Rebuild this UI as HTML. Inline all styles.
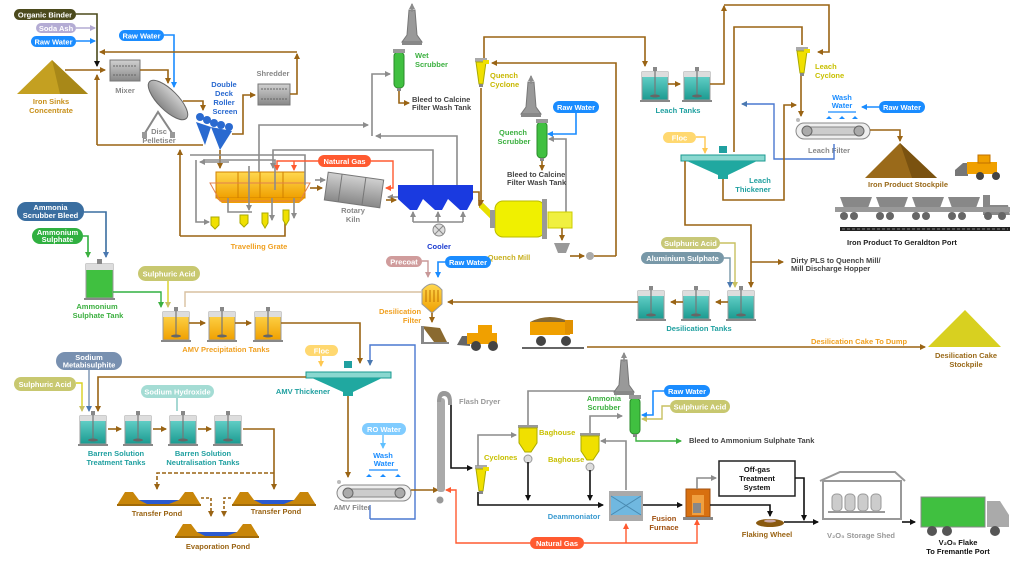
<!DOCTYPE html>
<html><head><meta charset="utf-8"><style>
html,body{margin:0;padding:0;background:#fff;width:1024px;height:571px;overflow:hidden}
svg{display:block}
text{font-family:"Liberation Sans",sans-serif;font-weight:bold;font-size:7.5px}
.w{fill:#fff;text-anchor:middle}
.c{text-anchor:middle}
.b{stroke:#9a6414;stroke-width:1.6;fill:none;marker-end:url(#mb)}
.bn{stroke:#9a6414;stroke-width:1.6;fill:none}
.g{stroke:#8c8c8c;stroke-width:1.6;fill:none;marker-end:url(#mg)}
.gn{stroke:#8c8c8c;stroke-width:1.6;fill:none}
.u{stroke:#1a8cff;stroke-width:1.6;fill:none;marker-end:url(#mu)}
.k{stroke:#111;stroke-width:1.6;fill:none;marker-end:url(#mk)}
.kn{stroke:#111;stroke-width:1.6;fill:none}
.r{stroke:#ff5a30;stroke-width:1.4;fill:none;marker-end:url(#mr)}
.rn{stroke:#ff5a30;stroke-width:1.4;fill:none}
</style></head><body>
<svg width="1024" height="571" viewBox="0 0 1024 571" xmlns="http://www.w3.org/2000/svg">
<defs>
<marker id="mb" markerWidth="6" markerHeight="6" refX="5" refY="3" orient="auto" markerUnits="userSpaceOnUse"><path d="M0,0L6,3L0,6z" fill="#9a6414"/></marker>
<marker id="mg" markerWidth="6" markerHeight="6" refX="5" refY="3" orient="auto" markerUnits="userSpaceOnUse"><path d="M0,0L6,3L0,6z" fill="#8c8c8c"/></marker>
<marker id="mu" markerWidth="6" markerHeight="6" refX="5" refY="3" orient="auto" markerUnits="userSpaceOnUse"><path d="M0,0L6,3L0,6z" fill="#1a8cff"/></marker>
<marker id="mk" markerWidth="6" markerHeight="6" refX="5" refY="3" orient="auto" markerUnits="userSpaceOnUse"><path d="M0,0L6,3L0,6z" fill="#111"/></marker>
<marker id="mr" markerWidth="6" markerHeight="6" refX="5" refY="3" orient="auto" markerUnits="userSpaceOnUse"><path d="M0,0L6,3L0,6z" fill="#ff5a30"/></marker>
<marker id="mn" markerWidth="6" markerHeight="6" refX="5" refY="3" orient="auto" markerUnits="userSpaceOnUse"><path d="M0,0L6,3L0,6z" fill="#3cb040"/></marker>
<marker id="my" markerWidth="6" markerHeight="6" refX="5" refY="3" orient="auto" markerUnits="userSpaceOnUse"><path d="M0,0L6,3L0,6z" fill="#c8c060"/></marker>
<marker id="ms" markerWidth="6" markerHeight="6" refX="5" refY="3" orient="auto" markerUnits="userSpaceOnUse"><path d="M0,0L6,3L0,6z" fill="#4a78b0"/></marker>
<marker id="ml" markerWidth="6" markerHeight="6" refX="5" refY="3" orient="auto" markerUnits="userSpaceOnUse"><path d="M0,0L6,3L0,6z" fill="#60c0ff"/></marker>
<marker id="mp" markerWidth="6" markerHeight="6" refX="5" refY="3" orient="auto" markerUnits="userSpaceOnUse"><path d="M0,0L6,3L0,6z" fill="#c89898"/></marker>
<marker id="mf" markerWidth="6" markerHeight="6" refX="5" refY="3" orient="auto" markerUnits="userSpaceOnUse"><path d="M0,0L6,3L0,6z" fill="#ffc850"/></marker>
<marker id="mv" markerWidth="6" markerHeight="6" refX="5" refY="3" orient="auto" markerUnits="userSpaceOnUse"><path d="M0,0L6,3L0,6z" fill="#b0a8d0"/></marker>
<linearGradient id="tl" x1="0" x2="0" y1="0" y2="1"><stop offset="0" stop-color="#6fd8d0"/><stop offset="1" stop-color="#1a9a90"/></linearGradient>
<linearGradient id="ye" x1="0" x2="0" y1="0" y2="1"><stop offset="0" stop-color="#ffd850"/><stop offset="1" stop-color="#f0a000"/></linearGradient>
<linearGradient id="gy" x1="0" x2="0" y1="0" y2="1"><stop offset="0" stop-color="#d0d0d0"/><stop offset="1" stop-color="#888"/></linearGradient>
<g id="tk"><rect x="0" y="4" width="26" height="28" fill="url(#tl)" stroke="#999"/><rect x="0" y="4" width="26" height="5" fill="#ddd"/><rect x="-2" y="32" width="30" height="2" fill="#888"/><line x1="13" y1="0" x2="13" y2="28" stroke="#777" stroke-width="1.2"/><rect x="11" y="-1" width="4" height="4" fill="#888"/><ellipse cx="13" cy="28" rx="5" ry="1.5" fill="#666"/></g>
<g id="ty"><rect x="0" y="4" width="26" height="28" fill="url(#ye)" stroke="#999"/><rect x="0" y="4" width="26" height="5" fill="#ddd"/><rect x="-2" y="32" width="30" height="2" fill="#888"/><line x1="13" y1="0" x2="13" y2="28" stroke="#777" stroke-width="1.2"/><rect x="11" y="-1" width="4" height="4" fill="#888"/><ellipse cx="13" cy="28" rx="5" ry="1.5" fill="#666"/></g>
<g id="cy"><rect x="-6" y="0" width="12" height="4" fill="#aaa"/><path d="M-5,4H5L2,26H-2z" fill="#f0e000" stroke="#aa0"/><rect x="2" y="2" width="6" height="4" fill="#f0e000"/><rect x="-2" y="26" width="4" height="3" fill="#888"/></g>
<g id="sc"><rect x="-5" y="0" width="10" height="36" rx="4" fill="#40c040" stroke="#2a8a2a"/><rect x="-6" y="-3" width="12" height="4" fill="#999"/><rect x="-2" y="36" width="4" height="3" fill="#888"/></g>
<g id="st"><path d="M-3,0L3,0L5,25L10,32H-10L-5,25z" fill="#999" stroke="#777"/><rect x="-10" y="32" width="20" height="3" fill="#888"/></g>
<g id="bh"><rect x="-10" y="0" width="20" height="3" fill="#999"/><path d="M-9,3H9V18L3,27H-3L-9,18z" fill="#f0e000" stroke="#aa0"/><circle cx="0" cy="34" r="4" fill="#ddd" stroke="#999"/></g>
<g id="pond"><path d="M0,15L8,2H16L22,10H62L68,2H76L84,15z" fill="#c8860a"/><path d="M22,10H62L52,14H30z" fill="#2a5ad0"/><rect x="0" y="14" width="84" height="2" fill="#a06a08"/></g>
<g id="conv"><rect x="0" y="5" width="74" height="16" rx="8" fill="#eee" stroke="#888"/><rect x="8" y="9" width="58" height="8" rx="4" fill="#ccc" stroke="#888"/><circle cx="11" cy="13" r="5" fill="#aaa" stroke="#666"/><circle cx="63" cy="13" r="5" fill="#aaa" stroke="#666"/><circle cx="2" cy="2" r="2" fill="#bbb"/></g>
</defs>

<rect x="14" y="9" width="62" height="11" rx="5.5" fill="#4b4a1c"/><text x="45" y="17.5" class="w">Organic Binder</text>
<rect x="36" y="23" width="40" height="10" rx="5" fill="#b4acd4"/><text x="56" y="31" class="w">Soda Ash</text>
<rect x="31" y="36" width="45" height="11" rx="5.5" fill="#1a8cff"/><text x="53.5" y="44.5" class="w">Raw Water</text>
<path d="M76,14H97V66" stroke="#4b4a1c" stroke-width="1.6" fill="none" marker-end="url(#mk)"/>
<path d="M76,28H95" stroke="#b4acd4" stroke-width="1.6" fill="none" marker-end="url(#mv)"/>
<path d="M76,41H95" class="u"/>
<path d="M17,94L52,60L88,94z" fill="#c4a021"/><path d="M52,60L88,94H60z" fill="#a88818"/>
<text x="51" y="104" class="c" fill="#c8901a">Iron Sinks</text><text x="51" y="113" class="c" fill="#c8901a">Concentrate</text>
<path d="M65,70H105" class="b"/>
<path d="M97,145V75" class="b"/>
<rect x="110" y="60" width="30" height="21" fill="url(#gy)" stroke="#777"/><line x1="113" y1="66" x2="137" y2="66" stroke="#666" stroke-dasharray="2 1"/><line x1="113" y1="75" x2="137" y2="75" stroke="#666" stroke-dasharray="2 1"/>
<text x="125" y="93" class="c" fill="#888">Mixer</text>
<rect x="119" y="30" width="45" height="11" rx="5.5" fill="#1a8cff"/><text x="141.5" y="38.5" class="w">Raw Water</text>
<path d="M164,35H174V87" class="u"/>
<path d="M140,70H168V83" class="b"/>
<g transform="translate(168,100) rotate(45)"><ellipse cx="0" cy="0" rx="26" ry="10" fill="url(#gy)" stroke="#666"/></g>
<path d="M145,133L158,112L172,133" stroke="#888" stroke-width="2" fill="none"/><rect x="142" y="132" width="5" height="6" fill="#999"/><rect x="170" y="132" width="5" height="6" fill="#999"/>
<text x="159" y="134" class="c" fill="#888">Disc</text><text x="159" y="143" class="c" fill="#888">Pelletiser</text>
<path d="M183,101H203V110" class="b"/>
<path d="M97,145H203" class="bn"/>
<text x="224" y="87" class="c" fill="#2a6ad0">Double</text><text x="224" y="96" class="c" fill="#2a6ad0">Deck</text><text x="224" y="105" class="c" fill="#2a6ad0">Roller</text><text x="225" y="114" class="c" fill="#2a6ad0">Screen</text>
<g fill="#2a6ad0"><circle cx="200" cy="117" r="4"/><circle cx="207" cy="120" r="4"/><circle cx="214" cy="123" r="4"/><circle cx="221" cy="125" r="4"/><circle cx="229" cy="127" r="4"/>
<path d="M196,122L211,127L205,145z"/><path d="M211,127L232,131L220,150z"/></g>
<path d="M232,134H243V95H255" class="b"/>
<rect x="258" y="84" width="32" height="21" fill="url(#gy)" stroke="#777"/><line x1="261" y1="89" x2="287" y2="89" stroke="#666" stroke-dasharray="2 1"/><line x1="261" y1="99" x2="287" y2="99" stroke="#666" stroke-dasharray="2 1"/>
<text x="273" y="76" class="c" fill="#888">Shredder</text>
<path d="M290,94H297V54" class="b"/>
<path d="M297,52H100" class="b"/>
<path d="M180,236V150" class="b"/>
<path d="M180,236H285V222" class="bn"/>
<path d="M220,150V168" class="b"/>
<rect x="216" y="172" width="89" height="26" fill="url(#ye)" stroke="#d08000"/>
<g stroke="#d08000" fill="none"><line x1="238" y1="172" x2="238" y2="198"/><line x1="260" y1="172" x2="260" y2="198"/><line x1="283" y1="172" x2="283" y2="198"/></g>
<path d="M216,198L222,203H299L305,198" fill="#f0a000"/>
<path d="M210,183H310L300,201H220z" fill="none" stroke="#e08050"/>
<g fill="#f0e000" stroke="#aa0"><path d="M211,217h8v8l-4,4l-4,-4z"/><path d="M240,215h8v8l-4,4l-4,-4z"/><path d="M262,213h6v10l-3,5l-3,-5z"/><path d="M283,210h6v10l-3,5l-3,-5z"/></g>
<g class="gn"><path d="M190,155H305V185" /><path d="M196,160V222H209" class="g"/><path d="M203,160H275V190"/></g>
<path d="M249,166V210" class="g"/><path d="M228,198V212H252" class="gn"/><path d="M272,198V220" class="g"/><path d="M294,198V218" class="g"/>
<path d="M229,162H200" class="g"/>
<path d="M259,172V125H368" class="g"/>
<path d="M372,136V74H390" class="g"/>
<path d="M457,185V136H376" class="g"/>
<path d="M433,185V150H273V168" class="g"/>
<text x="259" y="249" class="c" fill="#f0a020">Travelling Grate</text>
<rect x="318" y="155" width="53" height="12" rx="6" fill="#ff5a30"/><text x="344.5" y="164" class="w">Natural Gas</text>
<path d="M318,161H277V170" class="r"/><path d="M294,161V170" class="r"/><path d="M371,161H393V188H386" class="r"/>
<g transform="translate(354,190) rotate(8)"><rect x="-28" y="-14" width="56" height="28" fill="url(#gy)" stroke="#777"/><line x1="-14" y1="-14" x2="-14" y2="14" stroke="#777"/><line x1="10" y1="-14" x2="10" y2="14" stroke="#777"/></g>
<path d="M315,180H325" class="g"/><path d="M310,188H322" class="b"/>
<text x="353" y="213" class="c" fill="#888">Rotary</text><text x="353" y="222" class="c" fill="#888">Kiln</text>
<path d="M398,197H388" class="g"/><path d="M386,200H396" class="b"/>
<rect x="398" y="185" width="75" height="14" fill="#1a3ae0"/>
<path d="M398,199L410,210H417L423,199L435,210H442L448,199L460,210H467L473,199z" fill="#1a3ae0"/>
<g stroke="#8c8c8c" stroke-width="1.4" fill="none"><path d="M413,222H463"/><path d="M413,222V212" class="g"/><path d="M438,222V212" class="g"/><path d="M463,222V212" class="g"/></g>
<circle cx="439" cy="230" r="6" fill="#ddd" stroke="#888"/><path d="M435,226L443,234M443,226L435,234" stroke="#888"/>
<text x="439" y="249" class="c" fill="#1a3ad0">Cooler</text>
<path d="M473,192H479V205H484" class="b"/>
<use href="#st" x="412" y="10"/><path d="M412,12V4" class="g"/>
<use href="#sc" x="399" y="52"/>
<text x="415" y="58" fill="#3cb040">Wet</text><text x="415" y="67" fill="#3cb040">Scrubber</text>
<path d="M399,91V103H409" class="b"/>
<text x="412" y="102" fill="#444" font-weight="normal" font-size="5.5">Bleed to Calcine</text><text x="412" y="110" fill="#444" font-weight="normal" font-size="5.5">Filter Wash Tank</text>

<use href="#cy" x="481" y="58"/>
<text x="490" y="78" fill="#c8b800">Quench</text><text x="490" y="87" fill="#c8b800">Cyclone</text>
<path d="M484,58V37H645V66" class="b"/>
<path d="M616,256V63H492" class="b"/>
<path d="M481,88V205" class="b"/>
<use href="#st" x="531" y="82"/><path d="M531,84V76" class="g"/>
<use href="#sc" x="542" y="122"/>
<text x="513" y="135" class="c" fill="#3cb040">Quench</text><text x="514" y="144" class="c" fill="#3cb040">Scrubber</text>
<rect x="553" y="101" width="46" height="12" rx="6" fill="#1a8cff"/><text x="576" y="110" class="w">Raw Water</text>
<path d="M576,113V134H548" class="u"/>
<path d="M566,215V139H549" class="g"/>
<path d="M542,161V170" class="b"/>
<text x="507" y="177" fill="#444" font-weight="normal" font-size="5.5">Bleed to Calcine</text><text x="507" y="185" fill="#444" font-weight="normal" font-size="5.5">Filter Wash Tank</text>
<path d="M481,205L494,218" stroke="#e8e000" stroke-width="6"/>
<rect x="495" y="201" width="50" height="36" rx="8" fill="#f0f000" stroke="#bb0"/><rect x="542" y="199" width="5" height="40" fill="#999"/><rect x="490" y="210" width="5" height="18" fill="#999"/>
<rect x="548" y="212" width="24" height="16" fill="#f0f040" stroke="#cc0"/>
<text x="509" y="260" class="c" fill="#c8b020">Quench Mill</text>
<path d="M562,228V240" class="b"/>
<path d="M554,243H570L566,253H558z" fill="#999"/>
<path d="M570,256H584" class="b"/><circle cx="590" cy="256" r="4" fill="#aaa"/>
<path d="M594,256H616" class="bn"/>

<use href="#tk" x="642" y="68"/><use href="#tk" x="684" y="68"/>
<path d="M668,84H680" class="b"/>
<path d="M710,84H724V6" class="b"/>
<path d="M724,5H829V52H818" class="b"/>
<text x="678" y="113" class="c" fill="#20a0a0">Leach Tanks</text>
<use href="#cy" x="802" y="47"/>
<text x="815" y="69" fill="#c8c000">Leach</text><text x="815" y="78" fill="#c8c000">Cyclone</text>
<path d="M734,152V27H802V45" class="bn"/>
<path d="M801,76V116" class="b"/>
<text x="842" y="100" class="c" fill="#1a8cff">Wash</text><text x="842" y="108" class="c" fill="#1a8cff">Water</text>
<path d="M828,112H856" stroke="#1a8cff" stroke-width="1.2"/><g fill="#1a8cff"><path d="M829,112v4l-3,3h6l-3,-3"/><path d="M842,112v4l-3,3h6l-3,-3"/><path d="M855,112v4l-3,3h6l-3,-3"/></g>
<rect x="879" y="101" width="46" height="12" rx="6" fill="#1a8cff"/><text x="902" y="110" class="w">Raw Water</text>
<path d="M879,107H862" class="u"/>
<use href="#conv" x="796" y="118"/>
<text x="808" y="153" fill="#888">Leach Filter</text>
<path d="M870,130H900V141" class="b"/>
<path d="M865,178L900,143L937,178z" fill="#9a6a1a"/><path d="M900,143L937,178H912z" fill="#7a5210"/>
<text x="868" y="187" fill="#9a6a1a">Iron Product Stockpile</text>
<g><path d="M955,170L963,163H968V176H955z" fill="#777"/><rect x="967" y="162" width="30" height="12" fill="#f0a000"/><rect x="978" y="155" width="12" height="8" fill="#f0a000" stroke="#c07000"/><circle cx="980" cy="176" r="4" fill="#444"/><circle cx="996" cy="176" r="4" fill="#444"/></g>
<g fill="#888"><path d="M840,197H872L868,208H844z"/><path d="M876,197H908L904,208H880z"/><path d="M912,197H944L940,208H916z"/><path d="M948,197H980L976,208H952z"/><path d="M983,195H990V205H1008L1010,215H983z"/></g>
<rect x="835" y="207" width="175" height="5" fill="#999"/>
<g fill="#666"><circle cx="844" cy="216" r="4"/><circle cx="854" cy="216" r="4"/><circle cx="880" cy="216" r="4"/><circle cx="890" cy="216" r="4"/><circle cx="916" cy="216" r="4"/><circle cx="926" cy="216" r="4"/><circle cx="952" cy="216" r="4"/><circle cx="962" cy="216" r="4"/><circle cx="988" cy="216" r="4"/><circle cx="1002" cy="216" r="4"/></g>
<rect x="840" y="227" width="170" height="4" fill="#222"/><line x1="842" y1="229" x2="1008" y2="229" stroke="#888" stroke-dasharray="3 2" stroke-width="1"/>
<text x="847" y="245" fill="#222">Iron Product To Geraldton Port</text>
<rect x="663" y="132" width="33" height="11" rx="5.5" fill="#ffd870"/><text x="679.5" y="140.5" class="w">Floc</text>
<path d="M696,137H705V153" stroke="#ffc850" stroke-width="1.4" fill="none" marker-end="url(#mf)"/>
<rect x="719" y="146" width="8" height="7" fill="#20a0a0"/>
<rect x="681" y="155" width="84" height="6" fill="#8ad8d0" stroke="#1a9a90"/>
<path d="M687,161H757L728,175H718z" fill="#20a8a0"/><rect x="718" y="175" width="10" height="4" fill="#20a8a0"/>
<text x="760" y="183" class="c" fill="#20a0a0">Leach</text><text x="753" y="192" class="c" fill="#20a0a0">Thickener</text>
<path d="M834,144V159H774V104H742" stroke="#4a78d0" stroke-width="1.4" fill="none" marker-end="url(#ms)"/>
<path d="M723,179V200H784V105H796" class="b"/>
<path d="M685,161V225H751V287" class="b"/>
<path d="M751,262H783" class="b"/>
<text x="791" y="263" fill="#444" font-weight="normal" font-size="5.5">Dirty PLS to Quench Mill/</text><text x="791" y="271" fill="#444" font-weight="normal" font-size="5.5">Mill Discharge Hopper</text>
<rect x="661" y="237" width="59" height="12" rx="6" fill="#c8c878"/><text x="690.5" y="246" class="w">Sulphuric Acid</text>
<rect x="641" y="252" width="83" height="12" rx="6" fill="#7898a8"/><text x="682.5" y="261" class="w">Aluminium Sulphate</text>
<path d="M720,243H735V287" stroke="#c8c060" stroke-width="1.4" fill="none" marker-end="url(#my)"/>
<path d="M724,258H730V287" stroke="#7898a8" stroke-width="1.4" fill="none" marker-end="url(#ms)"/>
<use href="#tk" x="638" y="287"/><use href="#tk" x="683" y="287"/><use href="#tk" x="728" y="287"/>
<path d="M728,302H716" class="b"/><path d="M683,302H671" class="b"/>
<path d="M638,302H448" class="b"/>
<text x="699" y="331" class="c" fill="#20a0a0">Desilication Tanks</text>
<rect x="386" y="256" width="36" height="11" rx="5.5" fill="#d09c9c"/><text x="404" y="264.5" class="w">Precoat</text>
<rect x="445" y="256" width="46" height="12" rx="6" fill="#1a8cff"/><text x="468" y="265" class="w">Raw Water</text>
<path d="M422,261H428V277" stroke="#c89898" stroke-width="1.4" fill="none" marker-end="url(#mp)"/>
<path d="M445,262H438V277" class="u"/>
<path d="M422,290Q432,278 442,290V304L432,313L422,304z" fill="url(#ye)" stroke="#999"/>
<g stroke="#c07000"><line x1="426" y1="290" x2="426" y2="302"/><line x1="430" y1="290" x2="430" y2="302"/><line x1="434" y1="290" x2="434" y2="302"/><line x1="438" y1="290" x2="438" y2="302"/></g>
<path d="M422,292H185V307" stroke="#d8c0a0" stroke-width="1.4" fill="none"/>
<text x="400" y="314" class="c" fill="#f0a020">Desilication</text><text x="412" y="323" class="c" fill="#f0a020">Filter</text>
<path d="M432,313V322" class="b"/>
<path d="M422,326L434,342H447L440,328z" fill="#8a6a30"/><rect x="421" y="326" width="3" height="17" fill="#888"/><rect x="421" y="342" width="28" height="2" fill="#888"/>
<g><path d="M457,345L462,336H470V346z" fill="#666"/><rect x="467" y="333" width="30" height="11" fill="#f0a000"/><rect x="478" y="325" width="14" height="9" fill="#f0a000"/><circle cx="476" cy="346" r="5" fill="#444"/><circle cx="493" cy="346" r="5" fill="#444"/></g>
<g><path d="M530,322Q550,312 570,322z" fill="#8a6a30"/><rect x="530" y="322" width="40" height="13" fill="#f0a000"/><rect x="565" y="320" width="8" height="14" fill="#e09000"/><circle cx="541" cy="341" r="5" fill="#444"/><circle cx="566" cy="341" r="5" fill="#444"/></g>
<line x1="522" y1="348" x2="584" y2="348" stroke="#333" stroke-width="1.5"/>
<path d="M587,347H925" class="b" stroke="#b07820"/>
<text x="811" y="344" fill="#f0a020">Desilication Cake To Dump</text>
<path d="M928,347L965,310L1001,347z" fill="#d8d020"/>
<text x="966" y="358" class="c" fill="#9a6a1a">Desilication Cake</text><text x="966" y="367" class="c" fill="#9a6a1a">Stockpile</text>

<rect x="17" y="202" width="67" height="19" rx="9" fill="#3a6ea0"/><text x="50.5" y="210" class="w">Ammonia</text><text x="50.5" y="218" class="w">Scrubber Bleed</text>
<rect x="32" y="228" width="51" height="16" rx="8" fill="#30b040"/><text x="57.5" y="235" class="w">Ammonium</text><text x="57.5" y="242" class="w">Sulphate</text>
<path d="M84,212H106V257" stroke="#3a6ea0" stroke-width="1.6" fill="none" marker-end="url(#ms)"/>
<path d="M83,236H88V257" stroke="#30b040" stroke-width="1.6" fill="none" marker-end="url(#mn)"/>
<rect x="86" y="264" width="27" height="34" fill="#40c040" stroke="#999"/><rect x="86" y="264" width="27" height="6" fill="#ddd"/><rect x="97" y="259" width="5" height="5" fill="#888"/><rect x="84" y="298" width="31" height="2" fill="#888"/>
<text x="97" y="309" class="c" fill="#3cb040">Ammonium</text><text x="98" y="318" class="c" fill="#3cb040">Sulphate Tank</text>
<path d="M113,292H161V307" stroke="#30b040" stroke-width="1.4" fill="none" marker-end="url(#mn)"/>
<rect x="138" y="266" width="62" height="15" rx="7.5" fill="#c8c870"/><text x="169" y="276.5" class="w">Sulphuric Acid</text>
<path d="M168,281V307" stroke="#d8d020" stroke-width="1.4" fill="none" marker-end="url(#my)"/>
<use href="#ty" x="163" y="308"/><use href="#ty" x="209" y="308"/><use href="#ty" x="255" y="308"/>
<path d="M189,323H205" class="b"/><path d="M235,323H251" class="b"/>
<path d="M281,323H360V363" class="b"/>
<text x="226" y="352" class="c" fill="#f0a020">AMV Precipitation Tanks</text>
<rect x="305" y="345" width="33" height="11" rx="5.5" fill="#ffd870"/><text x="321.5" y="353.5" class="w">Floc</text>
<path d="M321,356V366" stroke="#ffc850" stroke-width="1.4" fill="none" marker-end="url(#mf)"/>
<rect x="344" y="361" width="8" height="7" fill="#20a0a0"/>
<rect x="306" y="372" width="85" height="6" fill="#8ad8d0" stroke="#1a9a90"/>
<path d="M312,378H382L353,392H343z" fill="#20a8a0"/><rect x="343" y="392" width="10" height="4" fill="#20a8a0"/>
<text x="303" y="394" class="c" fill="#20a0a0">AMV Thickener</text>
<path d="M370,519H415V345H370V365" stroke="#4a78d0" stroke-width="1.4" fill="none" marker-end="url(#ms)"/>
<path d="M370,505V519" stroke="#4a78d0" stroke-width="1.4" fill="none"/>
<path d="M348,396V477" class="b"/>
<path d="M306,377H98V411" class="b"/>
<rect x="56" y="352" width="66" height="18" rx="9" fill="#7890b0"/><text x="89" y="360" class="w">Sodium</text><text x="89" y="367.5" class="w">Metabisulphite</text>
<rect x="14" y="377" width="62" height="14" rx="7" fill="#c8c870"/><text x="45" y="387" class="w">Sulphuric Acid</text>
<path d="M89,370V411" stroke="#7890b0" stroke-width="1.4" fill="none" marker-end="url(#ms)"/>
<path d="M76,383H82V411" stroke="#d8d020" stroke-width="1.4" fill="none" marker-end="url(#my)"/>
<use href="#tk" x="80" y="412"/><use href="#tk" x="125" y="412"/><use href="#tk" x="170" y="412"/><use href="#tk" x="215" y="412"/>
<path d="M108,429H121" class="b"/><path d="M153,429H166" class="b"/><path d="M198,429H211" class="b"/>
<path d="M243,429H274V489" class="b"/>
<rect x="141" y="385" width="73" height="13" rx="6.5" fill="#a4dcd4"/><text x="177.5" y="394.5" class="w">Sodium Hydroxide</text>
<path d="M177,398V411" stroke="#80c8c0" stroke-width="1.4" fill="none"/>
<text x="116" y="456" class="c" fill="#20a0a0">Barren Solution</text><text x="116" y="465" class="c" fill="#20a0a0">Treatment Tanks</text>
<text x="203" y="456" class="c" fill="#20a0a0">Barren Solution</text><text x="203" y="465" class="c" fill="#20a0a0">Neutralisation Tanks</text>
<path d="M274,473H157V489" class="b" stroke-dasharray="4 2"/>
<use href="#pond" x="117" y="490"/><use href="#pond" x="232" y="490"/><use href="#pond" x="175" y="522"/>
<path d="M201,498H211V516" class="b" stroke-dasharray="3 2"/><path d="M231,498H224V516" class="b" stroke-dasharray="3 2"/>
<text x="157" y="516" class="c" fill="#9a6414">Transfer Pond</text><text x="276" y="514" class="c" fill="#9a6414">Transfer Pond</text>
<text x="218" y="549" class="c" fill="#9a6414">Evaporation Pond</text>
<rect x="362" y="423" width="44" height="12" rx="6" fill="#80ccff"/><text x="384" y="432" class="w">RO Water</text>
<path d="M383,435V448" stroke="#60c0ff" stroke-width="1.4" fill="none" marker-end="url(#ml)"/>
<text x="383" y="458" class="c" fill="#1a8cff">Wash</text><text x="384" y="466" class="c" fill="#1a8cff">Water</text>
<path d="M369,470H398" stroke="#1a8cff" stroke-width="1.2"/><g fill="#1a8cff"><path d="M369,470v4l-3,3h6l-3,-3"/><path d="M383,470v4l-3,3h6l-3,-3"/><path d="M398,470v4l-3,3h6l-3,-3"/></g>
<use href="#conv" x="337" y="480"/>
<text x="352" y="510" class="c" fill="#888">AMV Filter</text>
<path d="M411,490H438" class="b"/>
<rect x="437" y="398" width="8" height="94" rx="3" fill="#aaa"/><path d="M437,402Q437,391 444,391Q452,391 452,402V405H448V402Q448,396 444,396Q441,396 441,402z" fill="#999"/>
<circle cx="440" cy="500" r="3.5" fill="#999"/>
<text x="459" y="404" fill="#999">Flash Dryer</text>
<path d="M451,405V468H472" class="k"/>
<use href="#cy" x="481" y="465"/>
<text x="484" y="460" fill="#c8c000">Cyclones</text>
<path d="M478,492V505H603" class="k"/>
<path d="M478,466V435H516" class="g"/>
<use href="#bh" x="528" y="425"/>
<text x="539" y="435" fill="#c8c000">Baghouse</text>
<path d="M528,425V391H621" class="g"/>
<path d="M528,462V500" class="k"/>
<use href="#bh" x="590" y="433"/>
<text x="548" y="462" fill="#c8c000">Baghouse</text>
<path d="M590,433V416H622" class="g"/>
<path d="M590,470V500" class="k"/>
<path d="M626,490V441H601" class="g"/>
<use href="#st" x="624" y="360"/><path d="M624,362V353" class="g"/>
<use href="#sc" x="635" y="398"/>
<text x="604" y="401" class="c" fill="#3cb040">Ammonia</text><text x="604" y="410" class="c" fill="#3cb040">Scrubber</text>
<rect x="664" y="385" width="46" height="12" rx="6" fill="#1a8cff"/><text x="687" y="394" class="w">Raw Water</text>
<rect x="670" y="400" width="60" height="13" rx="6.5" fill="#c8c870"/><text x="700" y="409.5" class="w">Sulphuric Acid</text>
<path d="M664,391H653V415H642" class="u"/>
<path d="M670,406H662V419H642" stroke="#c8c060" stroke-width="1.4" fill="none" marker-end="url(#my)"/>
<path d="M636,437V441H681" stroke="#3cb040" stroke-width="1.4" fill="none" marker-end="url(#mn)"/>
<text x="689" y="443" fill="#444" font-weight="normal" font-size="5.5">Bleed to Ammonium Sulphate Tank</text>
<rect x="609" y="491" width="34" height="30" fill="#aaa"/><rect x="611" y="496" width="30" height="19" fill="#70b8e0"/><path d="M611,496L641,515M641,496L611,515" stroke="#4a8ab0"/>
<text x="574" y="519" class="c" fill="#3a9ad0">Deammoniator</text>
<path d="M643,505H682" class="k"/>
<rect x="686" y="489" width="24" height="28" fill="#d87010" stroke="#a05010"/><rect x="692" y="495" width="12" height="20" fill="#f0a040"/><rect x="693" y="503" width="8" height="10" fill="#888"/><rect x="683" y="517" width="30" height="3" fill="#888"/>
<text x="664" y="521" class="c" fill="#a05010">Fusion</text><text x="664" y="530" class="c" fill="#a05010">Furnace</text>
<path d="M697,489V478H716" class="g"/>
<rect x="719" y="461" width="76" height="35" fill="#fff" stroke="#222" stroke-width="1.5"/>
<text x="757" y="472" class="c" fill="#111">Off-gas</text><text x="757" y="481" class="c" fill="#111">Treatment</text><text x="757" y="490" class="c" fill="#111">System</text>
<path d="M795,478H804V520" class="k"/>
<path d="M710,505H770V516" class="k"/>
<ellipse cx="770" cy="523" rx="14" ry="4" fill="#8a5a10"/><ellipse cx="770" cy="521" rx="6" ry="1.5" fill="#caa"/>
<text x="767" y="537" class="c" fill="#9a6414">Flaking Wheel</text>
<path d="M784,522H818" class="k"/>
<path d="M820,481L840,472H895L905,481" stroke="#999" stroke-width="2" fill="#fff"/><rect x="823" y="481" width="78" height="38" fill="#fff" stroke="#999" stroke-width="2"/>
<g fill="#ccc" stroke="#999"><rect x="832" y="494" width="10" height="17" rx="4"/><rect x="845" y="494" width="10" height="17" rx="4"/><rect x="858" y="494" width="10" height="17" rx="4"/><rect x="871" y="494" width="10" height="17" rx="4"/></g><rect x="828" y="511" width="57" height="2" fill="#999"/>
<text x="861" y="538" class="c" fill="#999">V₂O₅ Storage Shed</text>
<path d="M902,522H915" class="k"/>
<rect x="921" y="497" width="64" height="30" fill="#40c040" stroke="#888"/><path d="M987,501H1000L1009,515V527H987z" fill="#aaa"/><circle cx="932" cy="531" r="5" fill="#555"/><circle cx="947" cy="531" r="5" fill="#555"/><circle cx="995" cy="531" r="5" fill="#555"/>
<text x="958" y="545" class="c" fill="#111">V₂O₅ Flake</text><text x="958" y="554" class="c" fill="#111">To Fremantle Port</text>
<rect x="530" y="537" width="54" height="12" rx="6" fill="#ff5a30"/><text x="557" y="546" class="w">Natural Gas</text>
<path d="M530,543H456V490H446" class="r"/>
<path d="M584,543H697V520" class="r"/>
<path d="M626,543V524" class="r"/>
</svg>
</body></html>
